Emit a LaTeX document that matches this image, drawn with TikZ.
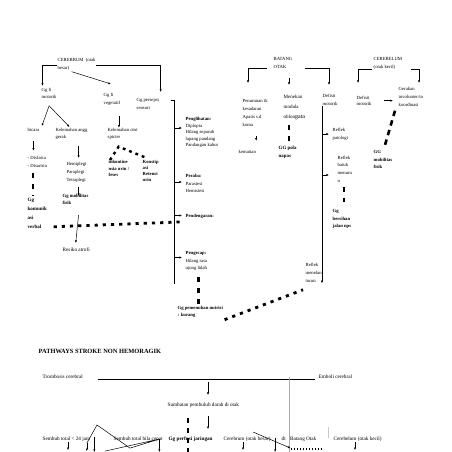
\documentclass[tikz,border=0pt]{standalone}
\usepackage{fontspec}
\setmainfont{Liberation Serif}
\usetikzlibrary{arrows.meta,calc}

\tikzset{
  teks/.style={anchor=north west,inner sep=0.5pt,align=left,font=\fontsize{4.7}{6.5}\selectfont},
  tebal/.style={teks,font=\fontsize{4.7}{6.5}\selectfont\bfseries},
  bawah/.style={teks,font=\fontsize{5.2}{6.5}\selectfont},
  panah/.style={-{Latex[length=2.6pt,width=2.2pt]},line width=0.5pt},
  garis/.style={line width=0.5pt},
  putus/.style={line width=2.8pt,dash pattern=on 3.2pt off 5pt},
  putus panjang/.style={line width=2.6pt,dash pattern=on 5pt off 6pt},
}

\begin{document}
\begin{tikzpicture}[x=1pt,y=1pt,yscale=-1,xscale=1]
\useasboundingbox (0,0) rectangle (452,452);

% Text Node
\draw (57,58) node [teks,font=\fontsize{4.7}{8}\selectfont] (cerebrum) {CEREBRUM\ \ (otak\\besar)};
% Text Node
\draw (41,87) node [teks,font=\fontsize{4.7}{7}\selectfont] (motorik) {Gg fi\\motorik};
% Text Node
\draw (103,92) node [teks,font=\fontsize{4.7}{8}\selectfont] (vegetatif) {Gg fi\\vegetatif};
% Text Node
\draw (136,98) node [teks,font=\fontsize{4.7}{8}\selectfont] (persepsi) {Gg persepsi\\sensori};
% Text Node
\draw (27,128) node [teks] (bicara) {bicara};
% Text Node
\draw (55,128) node [teks,font=\fontsize{4.7}{7}\selectfont] (kelemahan) {Kelemahan angg\\gerak};
% Text Node
\draw (27,155) node [teks,font=\fontsize{4.7}{8}\selectfont] (disfasia) {- Disfasia\\- Disartria};
% Text Node
\draw (66,162) node [teks,font=\fontsize{4.7}{8}\selectfont] (hemiplegi) {Hemiplegi\\Paraplegi\\Tetraplegi};
% Text Node
\draw (62,194) node [tebal] (mobfisik) {Gg mobilitas\\fisik};
% Text Node
\draw (62,247) node [bawah] (resiko) {Resiko atrofi};
% Text Node
\draw (27,197) node [tebal,font=\fontsize{5}{9}\selectfont\bfseries] (komunik) {Gg\\komunik\\asi\\verbal};
% Text Node
\draw (107,128) node [teks,font=\fontsize{4.7}{7}\selectfont] (otot) {Kelemahan otot\\spicter};
% Text Node
\draw (108,160) node [tebal] (inkontinensia) {inkontine\\nsia urin /\\feses};
% Text Node
\draw (142,160) node [tebal,font=\fontsize{4.7}{6}\selectfont\bfseries] (konstipasi) {Konstip\\asi\\Retensi\\urin};
% Text Node
\draw (185,117) node [teks] (penglihatan) {\textbf{Penglihatan:}\\Diplopia\\Hilang separuh\\lapang pandang\\Pandangan kabur};
% Text Node
\draw (185,174) node [teks,font=\fontsize{4.7}{7.5}\selectfont] (peraba) {\textbf{Peraba:}\\Parastesi\\Hemistesi};
% Text Node
\draw (185,214) node [tebal] (pendengaran) {Pendengaran:};
% Text Node
\draw (185,251) node [teks,font=\fontsize{4.7}{7.5}\selectfont] (pengecap) {\textbf{Pengecap:}\\Hilang rasa\\ujung lidah};
% Text Node
\draw (177,306) node [tebal,font=\fontsize{4.7}{7}\selectfont\bfseries] (nutrisi) {Gg pemenuhan nutrisi\\: kurang};

% Text Node
\draw (273,57) node [teks,font=\fontsize{4.7}{8}\selectfont] (batang) {BATANG\\OTAK};
% Text Node
\draw (242,99) node [teks,font=\fontsize{4.7}{7.7}\selectfont] (penurunan) {Penurunan tk\\kesadaran\\Apatis s.d\\koma};
% Text Node
\draw (238,150) node [teks] (kematian) {kematian};
% Text Node
\draw (283,94) node [teks,font=\fontsize{5}{10}\selectfont] (menekan) {Menekan\\modula\\oblon{\fontsize{6}{10}\selectfont gata}};
% Text Node
\draw (278,145) node [tebal,font=\fontsize{4.9}{8}\selectfont\bfseries] (napas) {GG pola\\napas};
% Text Node
\draw (322,93) node [teks,font=\fontsize{4.7}{8}\selectfont] (defisit) {Defisit\\motorik};
% Text Node
\draw (332,127) node [teks,font=\fontsize{4.7}{8.5}\selectfont] (patologi) {Reflek\\patologi};
% Text Node
\draw (337,155) node [teks,font=\fontsize{4.7}{7.7}\selectfont] (batuk) {Reflek\\batuk\\menuru\\n};
% Text Node
\draw (332,209) node [tebal,font=\fontsize{4.7}{7.5}\selectfont\bfseries] (bersihan) {Gg\\bersihan\\jalan nps};
% Text Node
\draw (305,262) node [teks,font=\fontsize{4.7}{8}\selectfont] (menelan) {Reflek\\menelan\\turun};

% Text Node
\draw (373,57) node [teks,font=\fontsize{4.7}{8}\selectfont] (cerebelum) {CEREBELUM\\(otak kecil)};
% Text Node
\draw (356,95) node [teks] (defisit2) {Defisit\\motorik};
% Text Node
\draw (398,87) node [teks,font=\fontsize{4.7}{8}\selectfont] (gerakan) {Gerakan\\involunter/in\\koordinasi};
% Text Node
\draw (373,150) node [tebal,font=\fontsize{4.7}{7.5}\selectfont\bfseries] (mobfisik2) {GG\\mobilitas\\fisik};

%Straight Lines
\draw [panah] (cerebrum.west) -| ($(motorik.north west)+(1.5,-1)$);
\draw [panah] ($(cerebrum.south)+(-5,0)$) -- ($(vegetatif.north)+(-1,-8)$);
\draw [panah] (cerebrum.east) -| ($(persepsi.north east)+(1,-6)$);
\coordinate (motbawah) at ($(motorik.south)+(0,7)$);
\draw [panah] (motbawah) -- ($(bicara.north east)+(2,-2)$);
\draw [panah] (motbawah) -- ($(kelemahan.north)+(-2,-1)$);
\draw [panah] ($(bicara.south)+(0,8)$) -- ++(0,10);
\draw [panah] ($(kelemahan.south -| hemiplegi.north)+(2,5)$) -- ($(hemiplegi.north)+(2,-4)$);
\draw [panah] ($(hemiplegi.south)+(2,3)$) -- ($(hemiplegi.south |- mobfisik.north)+(2,2)$);
\draw [panah] ($(mobfisik.south)+(3,10)$) -- ($(resiko.north)+(-0.5,-4)$);
\draw [panah] ($(vegetatif.south)+(7,10)$) -- ++(0,12);
%Dashed Lines
\draw [putus panjang] ($(disfasia.south west)+(6,5)$) -- ($(komunik.north west)+(6,-2)$);
\draw [putus] ($(komunik.south east)+(6,-2)$) -- ($(pendengaran.west)+(-2,5)$);
\draw [putus,line width=2.4pt,dash pattern=on 2.8pt off 4pt] ($(inkontinensia.north west)+(2,0)$) -- ($(otot.south)+(-4,6)$) -- ($(konstipasi.north)+(-4,-2)$);

%Straight Lines
\coordinate (jalur) at ($(persepsi.north east)+(15,2.5)$);
\draw [garis] ($(jalur)+(-4,0)$) -- (jalur) -- ++(0,183);
\draw [panah] ($(jalur |- penglihatan.north west)+(0,11)$) -- ($(penglihatan.north west)+(-3,11)$);
\draw [panah] ($(jalur |- peraba.north west)+(0,8)$) -- ($(peraba.north west)+(-3,8)$);
\draw [panah] ($(jalur |- pendengaran.north west)+(0,1.5)$) -- ($(pendengaran.north west)+(-3,1.5)$);
\draw [panah] ($(jalur |- pengecap.north west)+(0,6.5)$) -- ($(pengecap.north west)+(-3,6.5)$);
\draw [putus panjang] ($(pengecap.south)+(2,6)$) -- ($(pengecap.south |- nutrisi.north)+(2,-1)$);
\draw [putus] ($(nutrisi.south east)+(1,1)$) -- ($(menelan.south west)+(-2,7)$);

\draw [panah] ($(batang.south west)+(-6,-1)$) -| ($(penurunan.north west)+(6,-16)$);
\draw [panah] ($(menekan.north west)+(6,-16)$) -- ($(menekan.north west)+(6,-9)$);
\draw [panah] ($(batang.south east)+(12,-1)$) -| ($(defisit.north west)+(7,-8)$);
\draw [panah] ($(penurunan.south)+(1,9)$) -- ++(0,5);
\draw [putus panjang] ($(menekan.south west)+(6,5)$) -- ++(0,17);
\draw [panah] (defisit.south west) -- ($(defisit.south west |- menelan.south)+(0,0.5)$);
\draw [panah] (defisit.south west |- patologi.west) -- ($(patologi.west)+(-3,0)$);
\draw [panah] ($(defisit.south west |- batuk.north west)+(0,20)$) -- ($(batuk.north west)+(-8,20)$);
\draw [putus panjang] ($(batuk.south west)+(7,4)$) -- ++(0,15);

\draw [panah] ($(cerebelum.south west)+(-1,-1)$) -| ($(defisit2.north west)+(2,-12)$);
\draw [panah] ($(cerebelum.south east)+(8.5,-1)$) -| ($(gerakan.north west)+(21,-4)$);
\draw [panah] ($(defisit2.east)+(12,0)$) -- ($(gerakan.west |- defisit2.east)+(-5,0)$);
\draw [putus panjang,dash pattern=on 5.5pt off 4.5pt] ($(gerakan.south west)+(-3,3)$) -- ($(mobfisik2.north west)+(12,-5)$);

% Text Node
\draw (38,349) node [teks,font=\fontsize{6.4}{7}\selectfont\bfseries] (judul) {PATHWAYS STROKE NON HEMORAGIK};
% Text Node
\draw (42,374) node [bawah] (trombosis) {Trombosis cerebral};
% Text Node
\draw (318,374) node [bawah] (emboli) {Emboli cerebral};
% Text Node
\draw (167,402) node [bawah] (sumbatan) {Sumbatan pembuluh darah di otak};
% Text Node
\draw (42,436) node [bawah] (sembuh1) {Sembuh total < 24 jam};
% Text Node
\draw (113,436) node [bawah] (sembuh2) {Sembuh total bila cepat};
% Text Node
\draw (168,436) node [bawah,font=\fontsize{5.2}{6.5}\selectfont\bfseries] (perfusi) {Gg perfusi jaringan};
% Text Node
\draw (223,436) node [bawah] (cerebrum2) {Cerebrum (otak besar)};
% Text Node
\draw (281,436) node [bawah] (dt) {dt};
% Text Node
\draw (289.5,436) node [bawah] (batang2) {Batang Otak};
% Text Node
\draw (333,436) node [bawah] (cerebelum2) {Cerebelum (otak kecil)};

%Straight Lines
\draw [garis] ($(trombosis.south east)+(14,0)$) -- ($(emboli.south west)+(-3,0)$);
\draw [panah] ($(sumbatan.north west)+(41,-20)$) -- ($(sumbatan.north west)+(41,-7)$);
\draw [panah] ($(sumbatan.south west)+(41,8)$) -- ++(0,13);
\draw [line width=1.8pt,dash pattern=on 5pt off 5pt] ($(perfusi.north west)+(20,-18)$) -- ($(perfusi.north west)+(20,17)$);
\draw [line width=1pt,color={rgb,255:red,170;green,170;blue,170}] (emboli.west -| batang2.west) -- ($(batang2.west)+(0,17)$);
\coordinate (puncak) at ($(sembuh1.north west)+(55,-11)$);
\coordinate (kakikiri) at ($(sembuh1.south east)+(-4,1)$);
\coordinate (kakikanan) at ($(sembuh2.south west)+(17,6)$);
\draw [garis] (kakikiri) -- (puncak) -- (kakikanan);
\draw [panah] (kakikiri) -- ++(0,8);
\coordinate (simpul) at ($(sembuh2.east)+(-4,0)$);
\draw [garis] ($(sembuh2.south west)+(-8,9)$) -- (simpul) -- (kakikanan);
\draw [panah] (simpul) -- ++(0,13);
\draw [panah] ($(sembuh1.south west)+(26,0)$) -- ++(0,8);
\draw [panah] ($(sembuh1.north east)+(3.5,1)$) -- ++(0,15);
\draw [panah] ($(cerebrum2.south west)+(20,0)$) -- ++(0,8);
\draw [panah] ($(cerebrum2.north east)+(4,2)$) -- ++(0,14);
\draw [panah] ($(cerebelum2.south west)+(22,0)$) -- ++(0,8);
\draw [panah] ($(cerebrum2.north west)+(30,-4)$) -- ($(batang2.south west)+(1,6)$);
\draw [line width=2pt,dash pattern=on 1.5pt off 1.5pt] ($(batang2.south west)+(1,6.5)$) -- ++(33,0);
\draw [line width=0.4pt,color={rgb,255:red,200;green,200;blue,200}] ($(cerebelum2.west)+(-5,-12)$) -- ++(0,11);

\end{tikzpicture}
\end{document}
